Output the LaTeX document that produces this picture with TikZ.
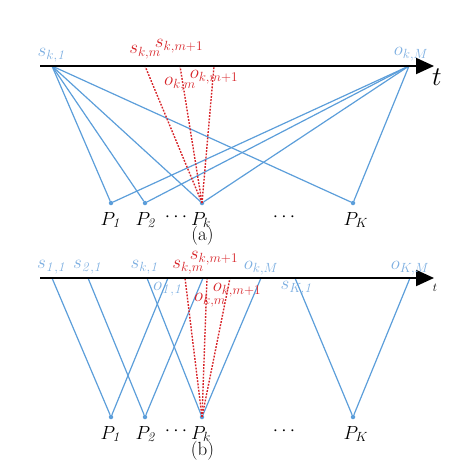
\RequirePackage{fix-cm}
\documentclass[tikz,border=0pt]{standalone}
\usetikzlibrary{arrows.meta}
\definecolor{lineblue}{RGB}{92,158,218}
\definecolor{labelblue}{RGB}{125,175,225}
\definecolor{dred}{RGB}{215,35,40}
\tikzset{
  pt/.style={circle,fill=lineblue,inner sep=0pt,minimum size=4.5pt},
  bl/.style={draw=lineblue,line width=1.2pt},
  rd/.style={draw=dred,line width=1.4pt,dash pattern=on 1.8pt off 1.4pt},
  axisline/.style={draw=black,line width=2pt,-{Triangle[length=18pt,width=16pt]}},
  blab/.style={text=labelblue,inner sep=0pt,font=\fontsize{19}{19}\selectfont},
  rlab/.style={text=dred,inner sep=0pt,font=\fontsize{19}{19}\selectfont},
  plab/.style={inner sep=0pt,font=\fontsize{19}{19}\selectfont},
  captxt/.style={inner sep=0pt,font=\fontsize{19}{19}\selectfont}
}
\begin{document}
\begin{tikzpicture}[x=1pt,y=-1pt]
\useasboundingbox (0,0) rectangle (474,474);
% ---------- panel (a) ----------
\coordinate (aL) at (40,66);
\coordinate (aR) at (434,66);
\coordinate (as) at (52,66);
\coordinate (ao) at (409,66);
\coordinate (ar1) at (145,66);
\coordinate (ar2) at (180,66);
\coordinate (ar3) at (214,66);
\node[pt] (aP1) at (111,203) {};
\node[pt] (aP2) at (145,203) {};
\node[pt] (aPk) at (202,203) {};
\node[pt] (aPK) at (353,203) {};
\foreach \p in {aP1,aP2,aPk,aPK}{
  \draw[bl] (as) -- (\p);
  \draw[bl] (ao) -- (\p);
}
\foreach \r in {ar1,ar2,ar3}{ \draw[rd] (aPk.center) -- (\r); }
\draw[axisline] (aL) -- (aR);
\node[blab] (las) at (52,55) {$s_{k,\mathit{1}}$};
\node[blab] (lao) at (411,54) {$o_{k,M}$};
\node[rlab] (lar1) at (145,52) {$s_{k,m}$};
\node[rlab] (lar2) at (179,46) {$s_{k,m+1}$};
\node[rlab] (lar3) at (180,84) {$o_{k,m}$};
\node[rlab] (lar4) at (214,77) {$o_{k,m+1}$};
\node[inner sep=0pt,font=\fontsize{27}{27}\selectfont] (lat) at (437,77) {$t$};
\node[plab] (laP1) at (111,220) {$P_{\mathit{1}}$};
\node[plab] (laP2) at (146,220) {$P_{\mathit{2}}$};
\node[plab] (laPk) at (201,220) {$P_{k}$};
\node[plab] (laPK) at (356,220) {$P_{K}$};
\node[plab] (lad1) at (176,217) {$\cdots$};
\node[plab] (lad2) at (284,217) {$\cdots$};
\node[captxt] (capa) at (202.5,236) {(a)};
% ---------- panel (b) ----------
\coordinate (bL) at (40,278);
\coordinate (bR) at (434,278);
\coordinate (bs1) at (52,278);
\coordinate (bo1) at (168,278);
\coordinate (bs2) at (88,278);
\coordinate (bo2) at (203,278);
\coordinate (bsk) at (147,278);
\coordinate (bok) at (261,278);
\coordinate (bsK) at (295,278);
\coordinate (boK) at (410,278);
\coordinate (br1) at (185,278);
\coordinate (br2) at (207,278);
\coordinate (br3) at (230,278);
\node[pt] (bP1) at (111,417) {};
\node[pt] (bP2) at (145,417) {};
\node[pt] (bPk) at (202,417) {};
\node[pt] (bPK) at (353,417) {};
\draw[bl] (bs1) -- (bP1) -- (bo1);
\draw[bl] (bs2) -- (bP2) -- (bo2);
\draw[bl] (bsk) -- (bPk) -- (bok);
\draw[bl] (bsK) -- (bPK) -- (boK);
\foreach \r in {br1,br2,br3}{ \draw[rd] (bPk.center) -- (\r); }
\draw[axisline] (bL) -- (bR);
\node[blab] (lbs1) at (52,267) {$s_{\mathit{1},\mathit{1}}$};
\node[blab] (lbs2) at (88,267) {$s_{\mathit{2},\mathit{1}}$};
\node[blab] (lbsk) at (145,267) {$s_{k,\mathit{1}}$};
\node[blab] (lbo1) at (168,289) {$o_{\mathit{1},\mathit{1}}$};
\node[blab] (lbok) at (261,268) {$o_{k,M}$};
\node[blab] (lbsK) at (297,288) {$s_{K,\mathit{1}}$};
\node[blab] (lboK) at (410,268) {$o_{K,M}$};
\node[rlab] (lbr1) at (188,267) {$s_{k,m}$};
\node[rlab] (lbr2) at (214,258) {$s_{k,m+1}$};
\node[rlab] (lbr3) at (210,300) {$o_{k,m}$};
\node[rlab] (lbr4) at (237,290) {$o_{k,m+1}$};
\node[inner sep=0pt,font=\fontsize{12}{12}\selectfont] (lbt) at (435,288) {$t$};
\node[plab] (lbP1) at (111,434) {$P_{\mathit{1}}$};
\node[plab] (lbP2) at (146,434) {$P_{\mathit{2}}$};
\node[plab] (lbPk) at (201,434) {$P_{k}$};
\node[plab] (lbPK) at (356,434) {$P_{K}$};
\node[plab] (lbd1) at (176,431) {$\cdots$};
\node[plab] (lbd2) at (284,431) {$\cdots$};
\node[captxt] (capb) at (202.5,450.5) {(b)};
\end{tikzpicture}
\end{document}
